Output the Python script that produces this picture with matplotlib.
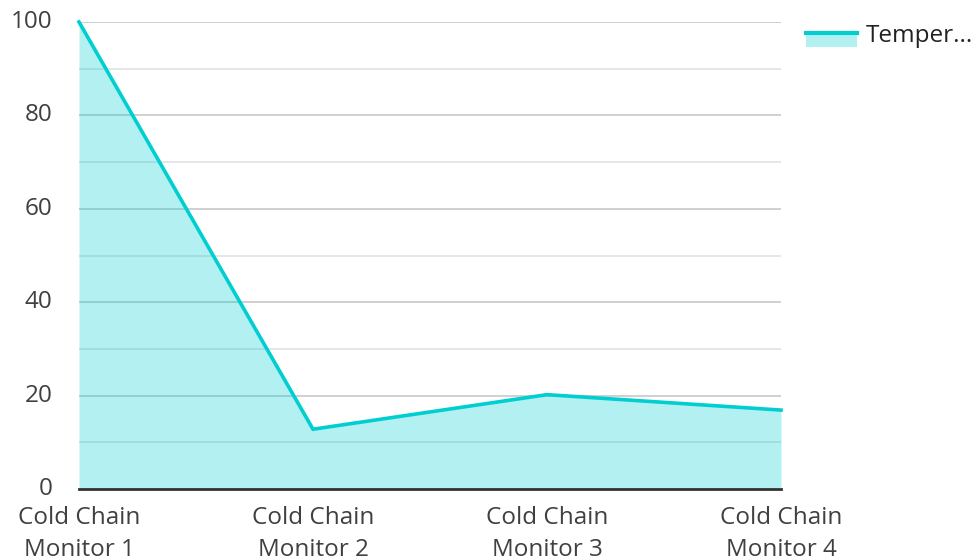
import matplotlib.pyplot as plt
import matplotlib.patches as mpatches
from matplotlib.lines import Line2D
from matplotlib.legend_handler import HandlerBase

plt.rcParams['font.family'] = ['Open Sans', 'DejaVu Sans']

monitors = ["Cold Chain\nMonitor 1", "Cold Chain\nMonitor 2",
            "Cold Chain\nMonitor 3", "Cold Chain\nMonitor 4"]
temperature = [100, 12.8, 20.2, 16.9]
series_label = "Temper..."

line_color = '#00CED1'
text_color = '#404040'
font_size = 17.5


class AreaHandler(HandlerBase):
    # line on top of a translucent fill block, like the area series
    def create_artists(self, legend, orig_handle, xdescent, ydescent,
                       width, height, fontsize, trans):
        rect = mpatches.Rectangle((-xdescent, -ydescent - 0.3 * height), width, 0.85 * height,
                                  facecolor=line_color, alpha=0.3, edgecolor='none',
                                  transform=trans)
        ln = Line2D([-xdescent, -xdescent + width], [0.55 * height - ydescent] * 2,
                    color=line_color, linewidth=3, transform=trans)
        return [rect, ln]


fig = plt.figure(figsize=(9.71, 5.6), dpi=100)
ax = fig.add_axes([79 / 971, (560 - 489) / 560, (781 - 79) / 971, (489 - 22) / 560])

x = list(range(len(monitors)))

# gridlines: darker every 20, lighter in between (drawn under the fill)
for v in range(10, 101, 10):
    if v % 20 == 0:
        ax.axhline(v, color='#c8c8c8', linewidth=1.2, zorder=0.5)
    else:
        ax.axhline(v, color='#e2e2e2', linewidth=1.2, zorder=0.5)

ax.fill_between(x, temperature, 0, color=line_color, alpha=0.3, linewidth=0, zorder=1)
ax.plot(x, temperature, color=line_color, linewidth=2.6, zorder=3, clip_on=False,
        solid_joinstyle='miter')
ax.axhline(0, color='#333333', linewidth=2, zorder=4, clip_on=False)

ax.set_xlim(0, len(monitors) - 1)
ax.set_ylim(0, 100)

for s in ax.spines.values():
    s.set_visible(False)

ax.set_yticks(range(0, 101, 20))
ax.set_xticks(x)
ax.set_xticklabels(monitors, linespacing=1.45)
ax.tick_params(axis='both', length=0, labelsize=font_size, colors=text_color)
ax.tick_params(axis='y', pad=19)
ax.tick_params(axis='x', pad=12)
for lbl in ax.get_yticklabels():
    lbl.set_verticalalignment('center')

ax.legend([object()], [series_label], handler_map={object: AreaHandler()},
          loc='upper left', bbox_to_anchor=(806 / 971, 1 - 24 / 560),
          bbox_transform=fig.transFigure, frameon=False, fontsize=font_size,
          handlelength=2.1, handletextpad=0.35, borderaxespad=0, borderpad=0,
          labelcolor='#222222')

fig.savefig('out.png', dpi=100)
